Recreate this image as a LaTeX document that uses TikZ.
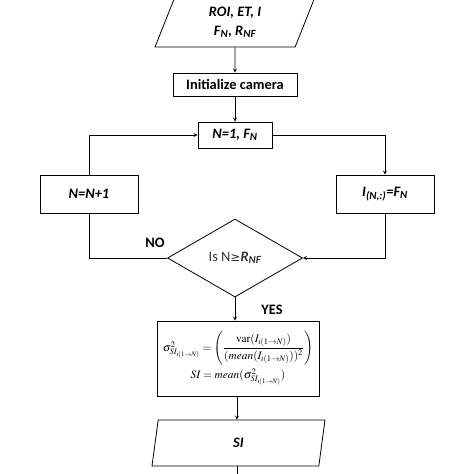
\documentclass[tikz,border=0pt]{standalone}
\usepackage{mathptmx}
\usepackage{fontspec}
\setmainfont{Carlito}
\newfontfamily\symfont{DejaVu Sans}
\usetikzlibrary{shapes.geometric}
\begin{document}
\begin{tikzpicture}[x=1pt,y=-1pt,line width=0.8pt,>=stealth,
		iobox/.style={draw,trapezium,trapezium left angle=57,trapezium right angle=123,trapezium stretches body=true,inner sep=0pt,font=\bfseries\itshape\Large,align=center},
		procbox/.style={draw,rectangle,inner sep=0pt,font=\bfseries\Large}]
			\useasboundingbox (0,0) rectangle (474,474);
			\node [iobox,minimum width=160pt,minimum height=50pt] (input) at (235,22) {ROI, ET, I\\[1pt] F\textsubscript{N}, R\textsubscript{NF}};
			\node [procbox,minimum width=124pt,minimum height=23pt] (init) at (235,84.5) {Initialize camera};
			\node [procbox,minimum width=74pt,minimum height=26pt,font=\bfseries\itshape\Large] (first) at (235,135) {N=1, F\textsubscript{N}};
			\node [procbox,minimum width=98pt,minimum height=38pt,font=\bfseries\itshape\Large] (incr) at (89,194) {N=N+1};
			\node [procbox,minimum width=98pt,minimum height=38pt,font=\bfseries\itshape\Large] (store) at (385,194) {I\textsubscript{(N,:)}=F\textsubscript{N}};
			\node [draw,diamond,aspect=1.73,minimum width=135pt,minimum height=78pt,inner sep=0pt,text=black!80,font=\Large] (test) at (235,258) {Is N{\symfont\large ≥}\textbf{\textit{R\textsubscript{NF}}}};
			\node [procbox,minimum width=162pt,minimum height=75pt,font=\fontsize{11.4}{14}\selectfont,align=center] (calc) at (238,358.5) {$\sigma^2_{SI_{i(1\rightarrow N)}}=\left(\displaystyle\frac{\mathrm{var}(I_{i(1\rightarrow N)})}{(mean(I_{i(1\rightarrow N)}))^2}\right)$\\[2pt] $SI=mean(\sigma^2_{SI_{i(1\rightarrow N)}})$};
			\node [iobox,minimum width=173pt,minimum height=46pt] (out) at (238.5,443) {SI};
			\coordinate (end) at (237,474);
			\node [font=\bfseries\Large] (no) at (155,243) {NO};
			\node [font=\bfseries\Large] (yes) at (272,310) {YES};
			\draw[->] (input) -- (init);
			\draw[->] (init) -- (first);
			\draw (test.west) -| (incr.south);
			\draw[->] (incr.north) |- (first.west);
			\draw[->] (first.east) -| (store.north);
			\draw[->] (store.south) |- (test.east);
			\draw[->] (test.south) -- (test.south |- calc.north);
			\draw[->] (end |- calc.south) -- (end |- out.north);
			\draw (end |- out.south) -- (end);
		\end{tikzpicture}
\end{document}
